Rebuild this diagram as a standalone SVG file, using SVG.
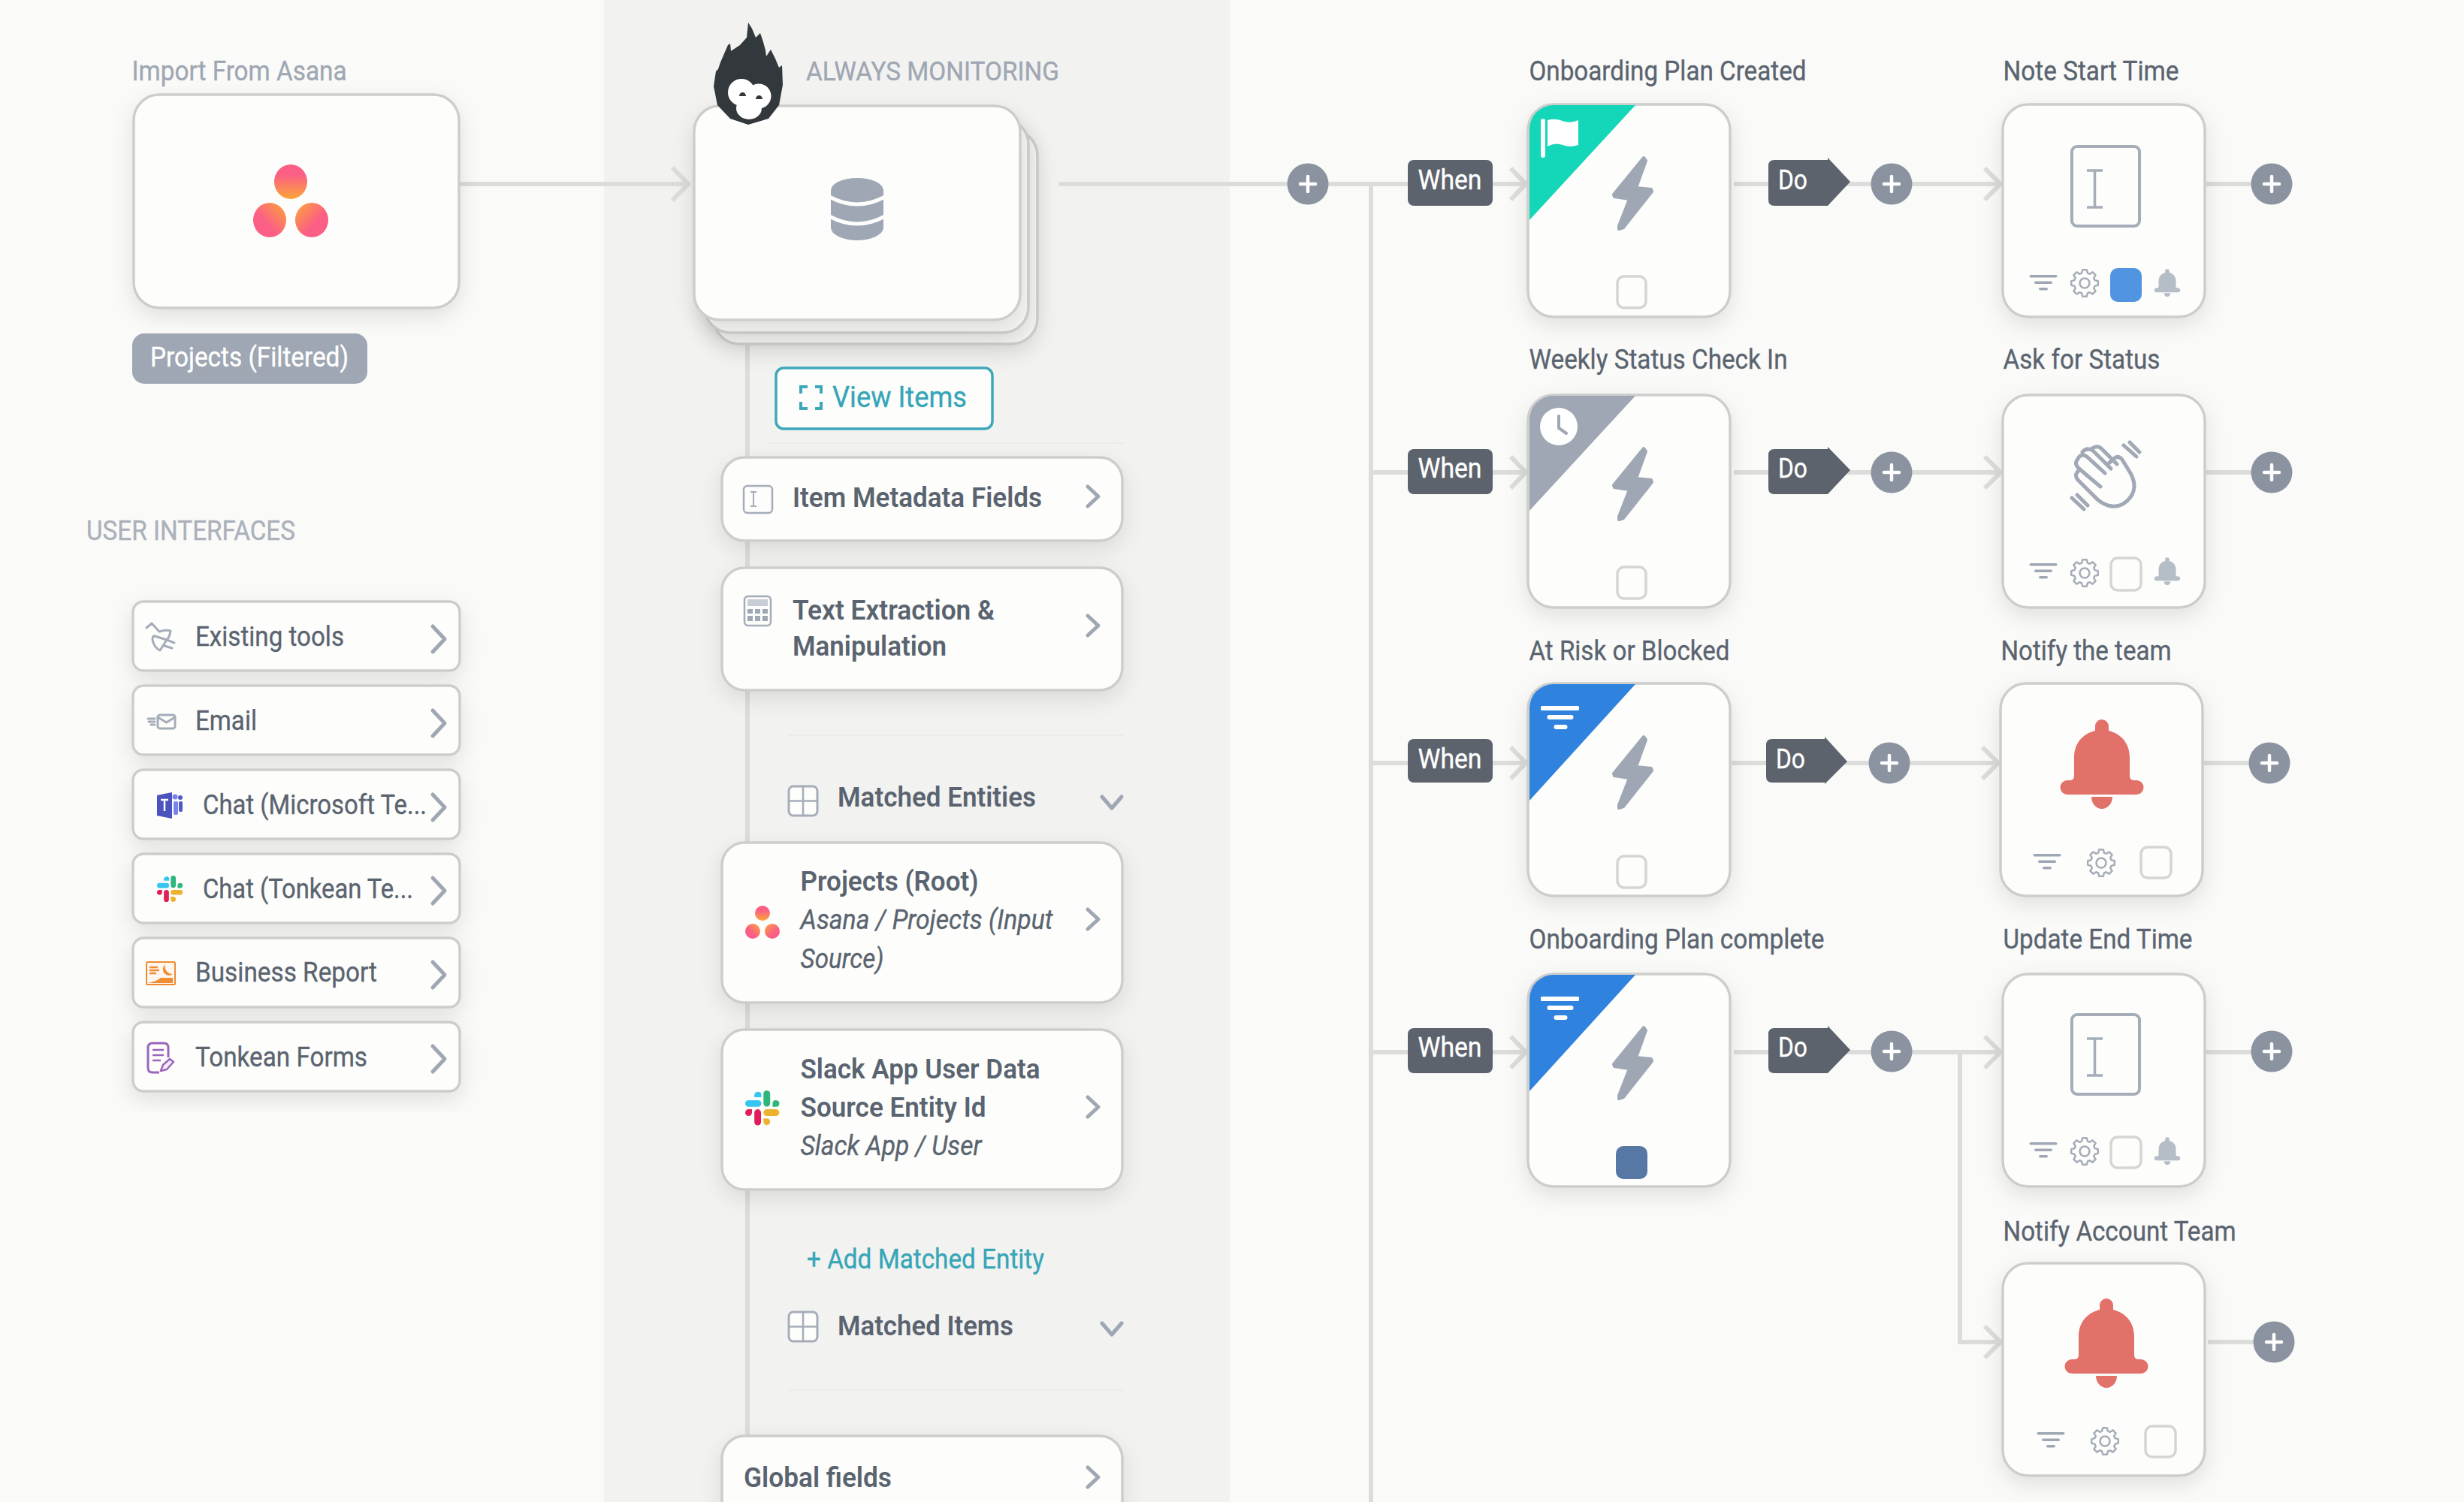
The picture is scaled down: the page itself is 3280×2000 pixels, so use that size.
<svg xmlns="http://www.w3.org/2000/svg" xmlns:xlink="http://www.w3.org/1999/xlink" width="3280" height="2000" viewBox="0 0 3280 2000">
<style>
text{font-family:Roboto,"Liberation Sans",sans-serif;font-size:36px;fill:#5a6470;stroke:#5a6470;stroke-width:.35}
.lab{fill:#9ea7b3;stroke:#9ea7b3}
.w{fill:#fff;stroke:#fff}
.b{font-weight:600;stroke-width:0}
.i{font-style:italic}
.teal{fill:#36a5b8;stroke:#36a5b8}
.ui{fill:#aab1ba;stroke:#aab1ba}
.card{fill:#fdfdfb;stroke:#cdcdcb;stroke-width:3.5;filter:url(#sh)}
.back{fill:#f5f5f3;stroke:#cdcdcb;stroke-width:3.5;filter:url(#sh)}
.ln{fill:none;stroke:#dcdcda;stroke-width:6}
.box{fill:none;stroke:#d5d5d3;stroke-width:3.5}
.ic{fill:none;stroke:#a5adb9;stroke-width:3;stroke-linecap:round;stroke-linejoin:round}
.chev{fill:none;stroke:#9ea7b3;stroke-width:5;stroke-linecap:round;stroke-linejoin:round}
.gr{fill:#9ea7b3}
.dark{fill:#5c636d}
.plus{fill:#8a939f}
.div{stroke:#ececea;stroke-width:2}
</style>
<defs>
<filter id="sh" x="-20%" y="-20%" width="140%" height="150%"><feDropShadow dx="0" dy="10" stdDeviation="14" flood-color="#000" flood-opacity=".1"/></filter>
<linearGradient id="a1" x1="0" y1="0" x2="0" y2="1"><stop offset=".3" stop-color="#fb5f85"/><stop offset="1" stop-color="#fca637"/></linearGradient>
<linearGradient id="a2" x1="0" y1="1" x2="1" y2="0"><stop offset=".4" stop-color="#fb5f85"/><stop offset="1" stop-color="#fca637"/></linearGradient>
<linearGradient id="a3" x1="1" y1="1" x2="0" y2="0"><stop offset=".4" stop-color="#fb5f85"/><stop offset="1" stop-color="#fca637"/></linearGradient>
<g id="plusb"><circle r="27.5" class="plus"/><path d="M-10 0H10M0-10V10" stroke="#fff" stroke-width="4.5" stroke-linecap="round"/></g>
<g id="bolt"><path class="gr" stroke="#9ea7b3" stroke-width="4" stroke-linejoin="round" d="M2188 210L2191 214L2178 250L2198 252L2199 255L2161 303L2155 305L2155 301L2169 265L2149 262L2148 259Z"/></g>
<g id="fg"><rect x="-18.5" y="0" width="37" height="3.5" rx="1.7" class="gr"/><rect x="-12" y="8.5" width="24" height="3.5" rx="1.7" class="gr"/><rect x="-6" y="17" width="12" height="3.5" rx="1.7" class="gr"/></g>
<g id="fw"><rect x="-25.5" y="0" width="51" height="6" rx="1.5" fill="#fff"/><rect x="-17" y="12" width="35" height="6" rx="3" fill="#fff"/><rect x="-8" y="25" width="18" height="6" rx="3" fill="#fff"/></g>
<g id="gear"><polygon points="13.5,-3.9 17.8,-2.8 17.8,2.8 13.5,3.9 12.2,6.8 14.6,10.6 10.6,14.6 6.8,12.2 3.9,13.5 2.8,17.8 -2.8,17.8 -3.9,13.5 -6.8,12.2 -10.6,14.6 -14.6,10.6 -12.2,6.8 -13.5,3.9 -17.8,2.8 -17.8,-2.8 -13.5,-3.9 -12.2,-6.8 -14.6,-10.6 -10.6,-14.6 -6.8,-12.2 -3.9,-13.5 -2.8,-17.8 2.8,-17.8 3.9,-13.5 6.8,-12.2 10.6,-14.6 14.6,-10.6 12.2,-6.8" fill="none" stroke="#a5adb9" stroke-width="2.5" stroke-linejoin="round"/><circle r="6.5" fill="none" stroke="#a5adb9" stroke-width="2.5"/></g>
<g id="bell"><path d="M-9 16V10A9 9 0 0 1 9 10V16C25 20 37 32 37 52V76Q37 82 43 82H46A9.5 9.5 0 0 1 46 101H-46A9.5 9.5 0 0 1-46 82H-43Q-37 82-37 76V52C-37 32-25 20-9 16Z"/><path d="M-14 104H14A14 16 0 0 1-14 104Z"/></g>
<g id="ibox"><rect x="0" y="0" width="90" height="106" rx="7" fill="none" stroke="#a5adb9" stroke-width="4"/><path d="M20 32H41M20 81H41M30.500 32V81" fill="none" stroke="#a5adb9" stroke-width="3.500"/></g>
<g id="chv"><path class="chev" d="M-8-17L8 0L-8 17"/></g>
<g id="chvm"><path class="chev" stroke-width="4" d="M-7-13L7 0L-7 13"/></g>
<g id="chd"><path class="chev" d="M-13-8L0 7L13-8"/></g>
<g id="slack"><rect x="0" y="32" width="53" height="22" rx="11" fill="#36c5f0"/><path d="M31 22A11 11 0 1 1 53 11V22Z" fill="#36c5f0"/><rect x="60" y="0" width="22" height="53" rx="11" fill="#2eb67d"/><path d="M90 54V42A11 11 0 1 1 101 54Z" fill="#2eb67d"/><rect x="30" y="62" width="22" height="53" rx="11" fill="#e01e5a"/><path d="M22 62V73A11 11 0 1 1 11 62Z" fill="#e01e5a"/><rect x="60" y="62" width="52" height="22" rx="11" fill="#ecb22e"/><path d="M60 92H71A11 11 0 1 1 60 103Z" fill="#ecb22e"/></g>
<g id="tbl"><rect x="0" y="0" width="38" height="39" rx="6" fill="#fdfdfb" stroke="#a5adb9" stroke-width="3"/><path d="M19 0V39M0 19.500H38" stroke="#a5adb9" stroke-width="2.500"/></g>
</defs>

<rect id="background" width="3280" height="2000" fill="#fafaf8"/>
<rect id="monitoring-panel" x="804" y="0" width="833" height="2000" fill="#f2f2f0"/>

<g id="connectors">
<path class="ln" d="M611 245H914"/><path class="ln" d="M895 223L916 245L895 267"/>
<path class="ln" d="M995 450V2000"/>
<path class="ln" d="M1410 245H2029"/><path class="ln" d="M2011 224L2031 245L2011 266"/>
<path class="ln" d="M1825 245V2000"/>
<path class="ln" d="M1825 629H2029"/><path class="ln" d="M2011 608L2031 629L2011 650"/>
<path class="ln" d="M1825 1016H2029"/><path class="ln" d="M2011 995L2031 1016L2011 1037"/>
<path class="ln" d="M1825 1401H2029"/><path class="ln" d="M2011 1380L2031 1401L2011 1422"/>
<path class="ln" d="M2308 245H2660"/><path class="ln" d="M2642 224L2663 245L2642 266"/>
<path class="ln" d="M2308 629H2660"/><path class="ln" d="M2642 608L2663 629L2642 650"/>
<path class="ln" d="M2305 1016H2657"/><path class="ln" d="M2639 995L2660 1016L2639 1037"/>
<path class="ln" d="M2308 1401H2660"/><path class="ln" d="M2642 1380L2663 1401L2642 1422"/>
<path class="ln" d="M2609 1401V1787H2660"/><path class="ln" d="M2642 1766L2663 1787L2642 1808"/>
<path class="ln" d="M2936 245H3024M2936 629H3024M2933 1016H3021M2936 1401H3024M2939 1787H3027"/>
<path class="div" d="M1023 590H1496M1049 979H1496M1049 1851H1496"/>
</g>

<g id="import-asana">
<text class="lab" x="175.500" y="107" textLength="286" lengthAdjust="spacingAndGlyphs">Import From Asana</text>
<rect class="card" x="178" y="126" width="433" height="284" rx="34"/>
<ellipse cx="387" cy="242" rx="22" ry="23" fill="url(#a1)"/>
<ellipse cx="359" cy="293" rx="22" ry="23" fill="url(#a2)"/>
<ellipse cx="415" cy="293" rx="22" ry="23" fill="url(#a3)"/>
</g>
<g id="tag-projects">
<rect x="176" y="444" width="313" height="67" rx="16" fill="#9ea7b3"/>
<text class="w" x="200" y="488" textLength="264" lengthAdjust="spacingAndGlyphs">Projects (Filtered)</text>
</g>

<text id="user-interfaces-label" class="ui" x="115" y="719" textLength="278" lengthAdjust="spacingAndGlyphs">USER INTERFACES</text>

<g id="ui-existing-tools">
<rect class="card" x="177" y="801" width="435" height="92" rx="14"/>
<path class="ic" d="M195 836L202 830L212 841Q221 838 227 840Q226 848 222 852L232 856M222 852L213 866Q205 862 203 852Q203 846 206 847ZM219 860L229 863"/>
<text x="260" y="860" textLength="198" lengthAdjust="spacingAndGlyphs">Existing tools</text>
<use href="#chv" x="584" y="851"/>
</g>
<g id="ui-email">
<rect class="card" x="177" y="913" width="435" height="92" rx="14"/>
<rect class="ic" x="210" y="952" width="23" height="18" rx="3" stroke-width="2"/><path class="ic" stroke-width="2" d="M210 955L221.500 962L233 955M197 957H206M198 961H206M201 965H206"/>
<text x="260" y="972" textLength="82" lengthAdjust="spacingAndGlyphs">Email</text>
<use href="#chv" x="584" y="963"/>
</g>
<g id="ui-teams">
<rect class="card" x="177" y="1025" width="435" height="92" rx="14"/>
<polygon points="209,1059 229,1055 229,1090 209,1086" fill="#4b53bc"/><rect x="231" y="1067" width="6" height="18" rx="2" fill="#7b83eb"/><rect x="238" y="1067" width="5" height="14" rx="2" fill="#5059c9"/><circle cx="233" cy="1061" r="3.500" fill="#7b83eb"/><circle cx="240" cy="1062" r="3" fill="#5059c9"/>
<path d="M214 1065H224M219 1065V1080" stroke="#fff" stroke-width="2.500" fill="none"/>
<text x="270" y="1084" textLength="298" lengthAdjust="spacingAndGlyphs">Chat (Microsoft Te...</text>
<use href="#chv" x="584" y="1075"/>
</g>
<g id="ui-tonkean-team">
<rect class="card" x="177" y="1137" width="435" height="92" rx="14"/>
<use href="#slack" transform="translate(209 1166) scale(.305)"/>
<text x="270" y="1196" textLength="280" lengthAdjust="spacingAndGlyphs">Chat (Tonkean Te...</text>
<use href="#chv" x="584" y="1186"/>
</g>
<g id="ui-business-report">
<rect class="card" x="177" y="1249" width="435" height="92" rx="14"/>
<rect x="195" y="1281" width="38" height="30" rx="1.500" fill="#fff6ee" stroke="#f08c33" stroke-width="2"/>
<path d="M199 1288H210M199 1292H212M199 1296H208" stroke="#f08c33" stroke-width="2.500" fill="none"/>
<path d="M220 1284A8 8 0 1 0 230 1297A10 10 0 0 1 220 1284Z" fill="#f08c33"/>
<path d="M197 1309Q208 1307 214 1302H230V1309Z" fill="#f08c33"/>
<text x="260" y="1307" textLength="242" lengthAdjust="spacingAndGlyphs">Business Report</text>
<use href="#chv" x="584" y="1298"/>
</g>
<g id="ui-tonkean-forms">
<rect class="card" x="177" y="1361" width="435" height="92" rx="14"/>
<path d="M224 1408V1395Q224 1389 218 1389H203Q197 1389 197 1395V1422Q197 1428 203 1428H212" fill="none" stroke="#9966bb" stroke-width="3"/>
<path d="M203 1398H218M203 1405H218M203 1412H214" stroke="#9966bb" stroke-width="2.500" fill="none"/>
<path d="M214 1426L217 1418L226 1410L231 1414L222 1424Z" fill="#f4ecf8" stroke="#9966bb" stroke-width="2.500" stroke-linejoin="round"/>
<text x="260" y="1420" textLength="229" lengthAdjust="spacingAndGlyphs">Tonkean Forms</text>
<use href="#chv" x="584" y="1410"/>
</g>

<g id="always-monitoring">
<text class="lab" style="font-size:35px" x="1073" y="107" textLength="337" lengthAdjust="spacingAndGlyphs">ALWAYS MONITORING</text>
<rect class="back" x="950" y="173" width="431" height="285" rx="34"/>
<rect class="back" x="938" y="158" width="431" height="285" rx="34"/>
<rect class="card" x="924" y="141" width="434" height="285" rx="34"/>
<rect class="gr" x="1106" y="253" width="70" height="50"/>
<ellipse class="gr" cx="1141" cy="253.500" rx="35" ry="16.500"/>
<ellipse class="gr" cx="1141" cy="303" rx="35" ry="17"/>
<path d="M1104 262Q1141 282 1178 262M1104 288Q1141 308 1178 288" fill="none" stroke="#fdfdfb" stroke-width="5"/>
<path id="mascot" fill="#33383c" d="M996 30L1001 38L1006 50L1012 44L1016 56L1019 67L1020 75L1026 66L1032 78L1037 90L1041 87L1042 113L1037 140L1023 158L996 166L972 158L955 140L950 115L953 95L956 92L959 83L969 60L972 58L973 68L985 60L994 50Z"/>
<circle cx="987" cy="123" r="18" fill="#fff"/><circle cx="1010" cy="128" r="16.500" fill="#fff"/><ellipse cx="997" cy="144" rx="17" ry="15" fill="#fff"/>
<path d="M984 128A4.500 5 0 0 1 993 128ZM1006 132A4.500 5 0 0 1 1015 132Z" fill="#33383c"/>
</g>
<g id="view-items">
<rect x="1033" y="490" width="288" height="81" rx="10" fill="#fdfdfb" stroke="#3ea8bb" stroke-width="3.500"/>
<path d="M1066 524V515H1075M1085 515H1093V524M1093 535V544H1085M1075 544H1066V535" fill="none" stroke="#3ea8bb" stroke-width="4"/>
<text class="teal" style="font-size:38px" x="1108" y="542" textLength="179" lengthAdjust="spacingAndGlyphs">View Items</text>
</g>
<g id="item-metadata-fields">
<rect class="card" x="961" y="609" width="533" height="111" rx="30"/>
<rect x="990" y="647" width="38" height="36" rx="5" fill="none" stroke="#a5adb9" stroke-width="2.500"/><path d="M999 655H1007M999 674H1007M1003 655V674" fill="none" stroke="#a5adb9" stroke-width="2"/>
<text class="b" x="1055" y="675" textLength="332" lengthAdjust="spacingAndGlyphs">Item Metadata Fields</text>
<use href="#chvm" x="1455" y="661"/>
</g>
<g id="text-extraction">
<rect class="card" x="961" y="756" width="533" height="163" rx="30"/>
<rect x="991" y="794" width="35" height="39" rx="5" fill="none" stroke="#a5adb9" stroke-width="2.500"/>
<rect x="995" y="798" width="27" height="9" fill="#c9ced6"/>
<path class="gr" d="M995 811h7v6h-7zM1005 811h7v6h-7zM1015 811h7v6h-7zM995 820h7v7h-7zM1005 820h7v7h-7zM1015 820h7v7h-7z"/>
<text class="b" x="1055" y="825" textLength="269" lengthAdjust="spacingAndGlyphs">Text Extraction &amp;</text>
<text class="b" x="1055" y="873" textLength="205" lengthAdjust="spacingAndGlyphs">Manipulation</text>
<use href="#chvm" x="1455" y="833"/>
</g>
<g id="matched-entities">
<use href="#tbl" x="1050" y="1047"/>
<text class="b" x="1115" y="1074" textLength="264" lengthAdjust="spacingAndGlyphs">Matched Entities</text>
<use href="#chd" x="1480" y="1069"/>
</g>
<g id="entity-projects">
<rect class="card" x="961" y="1122" width="533" height="213" rx="30"/>
<ellipse cx="1015" cy="1216" rx="10" ry="10" fill="url(#a1)"/><circle cx="1002" cy="1240" r="10" fill="url(#a2)"/><circle cx="1028" cy="1240" r="10" fill="url(#a3)"/>
<text class="b" x="1065.500" y="1186" textLength="237" lengthAdjust="spacingAndGlyphs">Projects (Root)</text>
<text class="i" x="1065.500" y="1237" textLength="336" lengthAdjust="spacingAndGlyphs">Asana / Projects (Input</text>
<text class="i" x="1065.500" y="1289" textLength="111" lengthAdjust="spacingAndGlyphs">Source)</text>
<use href="#chvm" x="1455" y="1224"/>
</g>
<g id="entity-slack">
<rect class="card" x="961" y="1371" width="533" height="213" rx="30"/>
<use href="#slack" transform="translate(992 1452) scale(.405)"/>
<text class="b" x="1065.500" y="1436" textLength="319" lengthAdjust="spacingAndGlyphs">Slack App User Data</text>
<text class="b" x="1065.500" y="1487" textLength="247" lengthAdjust="spacingAndGlyphs">Source Entity Id</text>
<text class="i" x="1065.500" y="1538" textLength="241" lengthAdjust="spacingAndGlyphs">Slack App / User</text>
<use href="#chvm" x="1455" y="1474"/>
</g>
<g id="add-matched-entity"><text class="teal" x="1074" y="1689" textLength="316" lengthAdjust="spacingAndGlyphs">+ Add Matched Entity</text></g>
<g id="matched-items">
<use href="#tbl" x="1050" y="1747"/>
<text class="b" x="1115" y="1778" textLength="234" lengthAdjust="spacingAndGlyphs">Matched Items</text>
<use href="#chd" x="1480" y="1770"/>
</g>
<g id="global-fields">
<rect class="card" x="961" y="1912" width="533" height="160" rx="30"/>
<text class="b" x="990" y="1980" textLength="197" lengthAdjust="spacingAndGlyphs">Global fields</text>
<use href="#chvm" x="1455" y="1967"/>
</g>

<g id="plus-start"><use href="#plusb" x="1741" y="245"/></g>

<g id="trigger-1">
<text x="2035.500" y="107" textLength="369" lengthAdjust="spacingAndGlyphs">Onboarding Plan Created</text>
<rect class="card" x="2034" y="139" width="269" height="283" rx="34"/>
<path fill="#14d6b8" d="M2177 140H2068A32 32 0 0 0 2036 172V293Z"/>
<rect x="2051" y="158" width="6" height="52" rx="3" fill="#fff"/>
<path fill="#fff" d="M2060 160Q2070 157 2080 161T2101 160V193Q2090 197 2080 193T2060 195Z"/>
<use href="#bolt"/>
<rect class="box" x="2153" y="368" width="38" height="42" rx="9"/>
</g>
<g id="when-1"><rect class="dark" x="1874" y="213" width="113" height="61" rx="8"/><text class="w" x="1887.500" y="252" textLength="85" lengthAdjust="spacingAndGlyphs">When</text></g>
<g id="do-1"><path class="dark" d="M2362 213H2433V210L2463 242L2433 274H2362Q2354 274 2354 266V221Q2354 213 2362 213Z"/><text class="w" x="2367" y="252" textLength="39" lengthAdjust="spacingAndGlyphs">Do</text></g>
<g id="plus-1a"><use href="#plusb" x="2518" y="245"/></g>
<g id="action-1">
<text x="2666.500" y="107" textLength="234" lengthAdjust="spacingAndGlyphs">Note Start Time</text>
<rect class="card" x="2666" y="139" width="269" height="283" rx="34"/>
<use href="#ibox" x="2758" y="195"/>
<use href="#fg" x="2720" y="366"/><use href="#gear" x="2775" y="377"/>
<rect x="2809" y="357" width="42" height="45" rx="10" fill="#5195e1"/>
<use href="#bell" fill="#b5bdc6" transform="translate(2885 358) scale(.31)"/>
</g>
<g id="plus-1b"><use href="#plusb" x="3024" y="245"/></g>

<g id="trigger-2">
<text x="2035.500" y="491" textLength="344" lengthAdjust="spacingAndGlyphs">Weekly Status Check In</text>
<rect class="card" x="2034" y="526" width="269" height="283" rx="34"/>
<path class="gr" d="M2177 527H2068A32 32 0 0 0 2036 559V680Z"/>
<circle cx="2075" cy="568" r="25" fill="#fff"/><path d="M2075 554V570L2085 577" fill="none" stroke="#9ea7b3" stroke-width="4" stroke-linecap="round"/>
<use href="#bolt" y="387"/>
<rect class="box" x="2153" y="755" width="38" height="42" rx="9"/>
</g>
<g id="when-2"><rect class="dark" x="1874" y="598" width="113" height="60" rx="8"/><text class="w" x="1887.500" y="636" textLength="85" lengthAdjust="spacingAndGlyphs">When</text></g>
<g id="do-2"><path class="dark" d="M2362 598H2433V595L2463 626L2433 658H2362Q2354 658 2354 650V606Q2354 598 2362 598Z"/><text class="w" x="2367" y="636" textLength="39" lengthAdjust="spacingAndGlyphs">Do</text></g>
<g id="plus-2a"><use href="#plusb" x="2518" y="629"/></g>
<g id="action-2">
<text x="2666.500" y="491" textLength="209" lengthAdjust="spacingAndGlyphs">Ask for Status</text>
<rect class="card" x="2666" y="526" width="269" height="283" rx="34"/>
<g fill="none" stroke="#a0a9b5" stroke-width="5" stroke-linecap="round" stroke-linejoin="round">
<path d="M2807 617L2815 610Q2820 606 2825 612L2836 630Q2846 648 2836 662Q2824 678 2806 673Q2796 670 2788 661L2766 639Q2760 632 2768 626"/>
<path d="M2770 626L2796 648M2766 611Q2760 618 2768 624M2766 611Q2770 603 2778 608L2802 630M2772 602Q2778 595 2786 600L2810 624M2785 597Q2792 592 2798 598L2818 618"/>
<path d="M2827 593L2844 608M2835 589L2848 602M2758 663L2774 678M2765 659L2779 673"/>
</g>
<use href="#fg" x="2720" y="750"/><use href="#gear" x="2775" y="763"/>
<rect class="box" x="2810" y="743" width="40" height="43" rx="9"/>
<use href="#bell" fill="#b5bdc6" transform="translate(2885 742) scale(.31)"/>
</g>
<g id="plus-2b"><use href="#plusb" x="3024" y="629"/></g>

<g id="trigger-3">
<text x="2035.500" y="879" textLength="267" lengthAdjust="spacingAndGlyphs">At Risk or Blocked</text>
<rect class="card" x="2034" y="910" width="269" height="283" rx="34"/>
<path fill="#2f82de" d="M2177 911H2068A32 32 0 0 0 2036 943V1066Z"/>
<use href="#fw" x="2076.500" y="940"/>
<use href="#bolt" y="771"/>
<rect class="box" x="2153" y="1140" width="38" height="42" rx="9"/>
</g>
<g id="when-3"><rect class="dark" x="1874" y="984" width="113" height="58" rx="8"/><text class="w" x="1887.500" y="1023" textLength="85" lengthAdjust="spacingAndGlyphs">When</text></g>
<g id="do-3"><path class="dark" d="M2359 984H2429V981L2459 1014L2429 1044V1042H2359Q2351 1042 2351 1034V992Q2351 984 2359 984Z"/><text class="w" x="2364" y="1023" textLength="39" lengthAdjust="spacingAndGlyphs">Do</text></g>
<g id="plus-3a"><use href="#plusb" x="2515" y="1016"/></g>
<g id="action-3">
<text x="2663.500" y="879" textLength="227" lengthAdjust="spacingAndGlyphs">Notify the team</text>
<rect class="card" x="2663" y="910" width="269" height="283" rx="34"/>
<use href="#bell" fill="#e2716a" transform="translate(2798 957)"/>
<use href="#fg" x="2725" y="1137"/><use href="#gear" x="2797" y="1149"/>
<rect class="box" x="2850" y="1128" width="40" height="41" rx="9"/>
</g>
<g id="plus-3b"><use href="#plusb" x="3021" y="1016"/></g>

<g id="trigger-4">
<text x="2035.500" y="1263" textLength="393" lengthAdjust="spacingAndGlyphs">Onboarding Plan complete</text>
<rect class="card" x="2034" y="1297" width="269" height="283" rx="34"/>
<path fill="#2f82de" d="M2177 1298H2068A32 32 0 0 0 2036 1330V1453Z"/>
<use href="#fw" x="2076.500" y="1327"/>
<use href="#bolt" y="1158"/>
<rect x="2151" y="1526" width="42" height="44" rx="10" fill="#5778a4"/>
</g>
<g id="when-4"><rect class="dark" x="1874" y="1369" width="113" height="60" rx="8"/><text class="w" x="1887.500" y="1407" textLength="85" lengthAdjust="spacingAndGlyphs">When</text></g>
<g id="do-4"><path class="dark" d="M2362 1369H2433V1366L2463 1398L2433 1429H2362Q2354 1429 2354 1421V1377Q2354 1369 2362 1369Z"/><text class="w" x="2367" y="1407" textLength="39" lengthAdjust="spacingAndGlyphs">Do</text></g>
<g id="plus-4a"><use href="#plusb" x="2518" y="1400"/></g>
<g id="action-4">
<text x="2666.500" y="1263" textLength="252" lengthAdjust="spacingAndGlyphs">Update End Time</text>
<rect class="card" x="2666" y="1297" width="269" height="283" rx="34"/>
<use href="#ibox" x="2758" y="1351"/>
<use href="#fg" x="2720" y="1521"/><use href="#gear" x="2775" y="1533"/>
<rect class="box" x="2810" y="1514" width="40" height="41" rx="9"/>
<use href="#bell" fill="#b5bdc6" transform="translate(2885 1514) scale(.31)"/>
</g>
<g id="plus-4b"><use href="#plusb" x="3024" y="1400"/></g>

<g id="action-5">
<text x="2666.500" y="1652" textLength="310" lengthAdjust="spacingAndGlyphs">Notify Account Team</text>
<rect class="card" x="2666" y="1682" width="269" height="283" rx="34"/>
<use href="#bell" fill="#e2716a" transform="translate(2804 1728)"/>
<use href="#fg" x="2730" y="1907"/><use href="#gear" x="2802" y="1919"/>
<rect class="box" x="2856" y="1899" width="40" height="41" rx="9"/>
</g>
<g id="plus-5"><use href="#plusb" x="3027" y="1787"/></g>
</svg>
